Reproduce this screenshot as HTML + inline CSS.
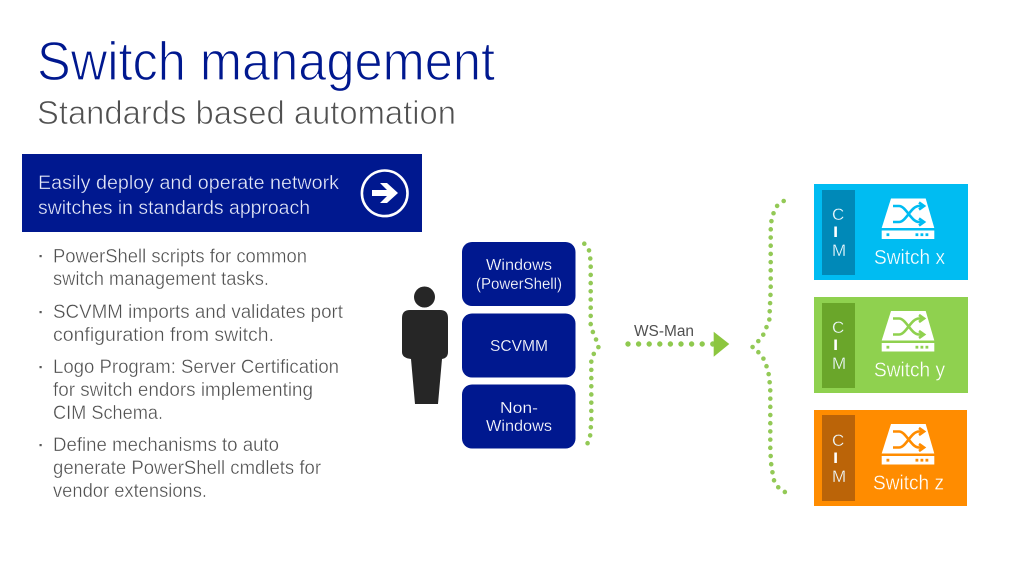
<!DOCTYPE html>
<html><head><meta charset="utf-8"><style>
html,body{margin:0;padding:0;background:#fff;width:1023px;height:575px;overflow:hidden}
svg{display:block}
text{font-family:"Liberation Sans",sans-serif}
.b{font-size:19px;fill:#505050;stroke:#fff;stroke-width:.35px}
</style></head><body>
<svg width="1023" height="575" viewBox="0 0 1023 575" xmlns="http://www.w3.org/2000/svg">
<rect width="1023" height="575" fill="#fff"/>
<text x="37" y="80" font-size="55" fill="#00188f" stroke="#fff" stroke-width="1.200" textLength="458" lengthAdjust="spacingAndGlyphs">Switch management</text>
<text x="37" y="124" font-size="33" fill="#505050" stroke="#fff" stroke-width=".8" textLength="419" lengthAdjust="spacingAndGlyphs">Standards based automation</text>

<rect x="22" y="154" width="400" height="78" fill="#00188f"/>
<text x="38" y="189" font-size="19" fill="#e6eaf8" stroke="#00188f" stroke-width=".35" textLength="301" lengthAdjust="spacingAndGlyphs">Easily deploy and operate network</text>
<text x="38" y="214" font-size="19" fill="#e6eaf8" stroke="#00188f" stroke-width=".35" textLength="272" lengthAdjust="spacingAndGlyphs">switches in standards approach</text>
<circle cx="384.700" cy="193.300" r="22.800" fill="none" stroke="#fff" stroke-width="2.600"/>
<path d="M372 190H387L380 183H387L398 193L387 203H380L387 196H372Z" fill="#fff"/>

<g fill="#595959">
<rect x="39.500" y="255" width="2.200" height="2.200"/>
<rect x="39.500" y="311" width="2.200" height="2.200"/>
<rect x="39.500" y="366" width="2.200" height="2.200"/>
<rect x="39.500" y="444" width="2.200" height="2.200"/>
</g>
<text class="b" x="53" y="262.500" textLength="254" lengthAdjust="spacingAndGlyphs">PowerShell scripts for common</text>
<text class="b" x="53" y="285" textLength="216" lengthAdjust="spacingAndGlyphs">switch management tasks.</text>
<text class="b" x="53" y="318" textLength="290" lengthAdjust="spacingAndGlyphs">SCVMM imports and validates port</text>
<text class="b" x="53" y="341" textLength="221" lengthAdjust="spacingAndGlyphs">configuration from switch.</text>
<text class="b" x="53" y="373" textLength="286" lengthAdjust="spacingAndGlyphs">Logo Program: Server Certification</text>
<text class="b" x="53" y="396" textLength="260" lengthAdjust="spacingAndGlyphs">for switch endors implementing</text>
<text class="b" x="53" y="419" textLength="110" lengthAdjust="spacingAndGlyphs">CIM Schema.</text>
<text class="b" x="53" y="451" textLength="226" lengthAdjust="spacingAndGlyphs">Define mechanisms to auto</text>
<text class="b" x="53" y="474" textLength="268" lengthAdjust="spacingAndGlyphs">generate PowerShell cmdlets for</text>
<text class="b" x="53" y="497" textLength="154" lengthAdjust="spacingAndGlyphs">vendor extensions.</text>

<circle cx="424.500" cy="297" r="10.500" fill="#262626"/>
<path d="M410 310H440Q448 310 448 318V352Q448 358 442 359L438 404H415L411 359Q402 358 402 352V318Q402 310 410 310Z" fill="#262626"/>

<g fill="#00188f">
<rect x="462" y="242" width="113.500" height="64" rx="10"/>
<rect x="462" y="313.500" width="113.500" height="64" rx="10"/>
<rect x="462" y="384.500" width="113.500" height="64" rx="10"/>
</g>
<g font-size="15.500" fill="#fff" stroke="#00188f" stroke-width=".2" text-anchor="middle">
<text x="519" y="270" textLength="66" lengthAdjust="spacingAndGlyphs">Windows</text>
<text x="519" y="289" textLength="86" lengthAdjust="spacingAndGlyphs">(PowerShell)</text>
<text x="519" y="351" textLength="58" lengthAdjust="spacingAndGlyphs">SCVMM</text>
<text x="519" y="413" textLength="38" lengthAdjust="spacingAndGlyphs">Non-</text>
<text x="519" y="431" textLength="66" lengthAdjust="spacingAndGlyphs">Windows</text>
</g>

<text x="634" y="336" font-size="15.500" fill="#505050" textLength="60" lengthAdjust="spacingAndGlyphs">WS-Man</text>

<path d="M584.300 243.700L589 250.300L590.300 258.700L590.700 266.700V325L593.300 333.300L596.700 341L598.700 346.700L594 353.300L591.300 361V420L590.300 435L587.300 444" fill="none" stroke="#93c956" stroke-width="4.600" stroke-linecap="round" stroke-dasharray="0 8.200"/>

<path d="M628 344H716" fill="none" stroke="#8fc94f" stroke-width="5.400" stroke-linecap="round" stroke-dasharray="0 10.600"/>
<path d="M713.700 331.700L729.300 344L713.700 356.700Z" fill="#8cc63f"/>

<path d="M783.700 201L777 206L773.300 213.700L771.300 221.700L770.700 230V290L769.300 320.300L766 328.300L762.700 336L757.300 342.300L752.300 347.300L759 352.700L763.700 359L766.700 366.700L768.700 374.300L769.700 382.700L770.300 391V450L771.300 465.700L772.700 473.700L774.300 481.700L779 488.300L786 492.700" fill="none" stroke="#93c956" stroke-width="4.600" stroke-linecap="round" stroke-dasharray="0 8.200"/>

<rect x="814" y="184" width="154" height="96" fill="#00bcf2"/>
<rect x="814" y="297" width="154" height="96" fill="#8fd14f"/>
<rect x="814" y="410" width="153" height="96" fill="#ff8c00"/>
<rect x="822" y="190" width="33" height="85" fill="#0089b8"/>
<rect x="822" y="303" width="33" height="85" fill="#6aa62a"/>
<rect x="822" y="415" width="33" height="86" fill="#bb6408"/>

<g fill="#eef9fd" font-size="17">
<text x="832" y="220" stroke="#0089b8" stroke-width=".3">C</text><rect x="834.300" y="226.500" width="2.600" height="10.500" fill="#fff"/><text x="832" y="256" stroke="#0089b8" stroke-width=".3">M</text>
<text x="832" y="333" stroke="#6aa62a" stroke-width=".3">C</text><rect x="834.300" y="339.500" width="2.600" height="10.500" fill="#fff"/><text x="832" y="369" stroke="#6aa62a" stroke-width=".3">M</text>
<text x="832" y="446" stroke="#bb6408" stroke-width=".3">C</text><rect x="834.300" y="452.500" width="2.600" height="10.500" fill="#fff"/><text x="832" y="482" stroke="#bb6408" stroke-width=".3">M</text>
</g>

<g>
<path d="M891 198.500H925.700L934.300 228H881.700Z" fill="#fff"/>
<rect x="881.700" y="230.500" width="52.600" height="8.500" fill="#fff"/>
<path d="M893 206H899C906 206 911 222 919 222H923M893 222H899C906 222 911 206 919 206H923M919 202.500L924 206L919 209.500M919 218.500L924 222L919 225.500" fill="none" stroke="#00bcf2" stroke-width="2.600"/>
<g fill="#00bcf2"><rect x="886.500" y="233.300" width="2.800" height="2.800"/><rect x="915.500" y="233.300" width="2.800" height="2.800"/><rect x="920.500" y="233.300" width="2.800" height="2.800"/><rect x="925.500" y="233.300" width="2.800" height="2.800"/></g>
</g>
<g transform="translate(0,112.500)">
<path d="M891 198.500H925.700L934.300 228H881.700Z" fill="#fff"/>
<rect x="881.700" y="230.500" width="52.600" height="8.500" fill="#fff"/>
<path d="M893 206H899C906 206 911 222 919 222H923M893 222H899C906 222 911 206 919 206H923M919 202.500L924 206L919 209.500M919 218.500L924 222L919 225.500" fill="none" stroke="#8fd14f" stroke-width="2.600"/>
<g fill="#8fd14f"><rect x="886.500" y="233.300" width="2.800" height="2.800"/><rect x="915.500" y="233.300" width="2.800" height="2.800"/><rect x="920.500" y="233.300" width="2.800" height="2.800"/><rect x="925.500" y="233.300" width="2.800" height="2.800"/></g>
</g>
<g transform="translate(0,225.500)">
<path d="M891 198.500H925.700L934.300 228H881.700Z" fill="#fff"/>
<rect x="881.700" y="230.500" width="52.600" height="8.500" fill="#fff"/>
<path d="M893 206H899C906 206 911 222 919 222H923M893 222H899C906 222 911 206 919 206H923M919 202.500L924 206L919 209.500M919 218.500L924 222L919 225.500" fill="none" stroke="#ff8c00" stroke-width="2.600"/>
<g fill="#ff8c00"><rect x="886.500" y="233.300" width="2.800" height="2.800"/><rect x="915.500" y="233.300" width="2.800" height="2.800"/><rect x="920.500" y="233.300" width="2.800" height="2.800"/><rect x="925.500" y="233.300" width="2.800" height="2.800"/></g>
</g>

<g fill="#fff" font-size="20.500">
<text x="874" y="264" stroke="#00bcf2" stroke-width=".3" textLength="71" lengthAdjust="spacingAndGlyphs">Switch x</text>
<text x="874" y="376.500" stroke="#8fd14f" stroke-width=".3" textLength="71" lengthAdjust="spacingAndGlyphs">Switch y</text>
<text x="873" y="489.500" stroke="#ff8c00" stroke-width=".3" textLength="71" lengthAdjust="spacingAndGlyphs">Switch z</text>
</g>
</svg>
</body></html>
